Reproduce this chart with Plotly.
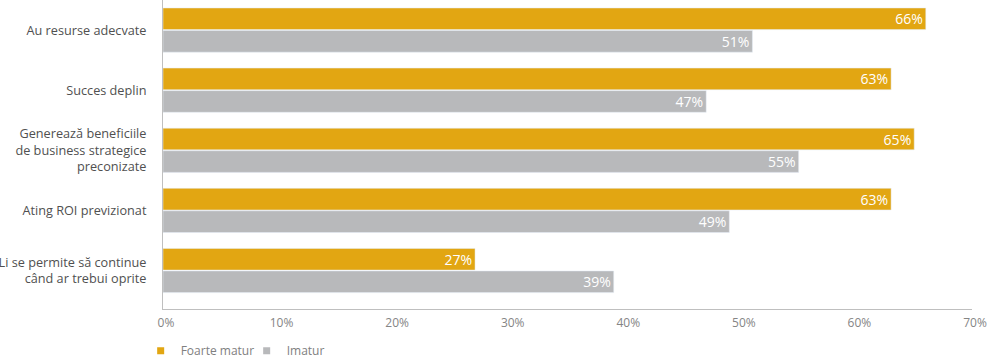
import plotly.graph_objects as go

categories = [
    "Au resurse adecvate",
    "Succes deplin",
    "Generează beneficiile<br>de business strategice<br>preconizate",
    "Ating ROI previzionat",
    "Li se permite să continue<br>când ar trebui oprite",
]
foarte_matur = [66, 63, 65, 63, 27]
imatur = [51, 47, 55, 49, 39]
tick_vals = [0, 10, 20, 30, 40, 50, 60, 70]
tick_text = ["0%", "10%", "20%", "30%", "40%", "50%", "60%", "70%"]

ORANGE = "#E2A612"
GRAY = "#B8B9BB"
FONT = "Open Sans"

fig = go.Figure()
fig.add_trace(go.Bar(
    y=categories, x=foarte_matur, orientation="h", name="Foarte matur",
    marker=dict(color=ORANGE), text=[f"{v}%" for v in foarte_matur],
    textposition="inside", insidetextanchor="end", constraintext="none",
    textfont=dict(color="white", size=14, family=FONT, weight=500), showlegend=False,
))
fig.add_trace(go.Bar(
    y=categories, x=imatur, orientation="h", name="Imatur",
    marker=dict(color=GRAY), text=[f"{v}%" for v in imatur],
    textposition="inside", insidetextanchor="end", constraintext="none",
    textfont=dict(color="white", size=14, family=FONT, weight=500), showlegend=False,
))
# legend entries with small square symbols
fig.add_trace(go.Scatter(x=[None], y=[None], mode="markers", name="Foarte matur",
                         marker=dict(symbol="square", size=7, color=ORANGE)))
fig.add_trace(go.Scatter(x=[None], y=[None], mode="markers", name="Imatur",
                         marker=dict(symbol="square", size=7, color=GRAY)))

fig.update_layout(
    width=987, height=360,
    margin=dict(l=163, r=15, t=0, b=51, autoexpand=False),
    paper_bgcolor="white", plot_bgcolor="white",
    barmode="group", bargap=0.25, bargroupgap=0.04,
    font=dict(family=FONT, color="#555555"),
    legend=dict(orientation="h", x=-0.0276, xanchor="left", y=-0.135, yanchor="middle",
                font=dict(size=12, color="#808080", family=FONT),
                entrywidth=61, entrywidthmode="pixels", tracegroupgap=0),
)
fig.update_xaxes(
    range=[0, 70], tickvals=tick_vals, ticktext=tick_text, automargin=False,
    showgrid=False, zeroline=False, showline=True, linecolor="#BFBFBF", linewidth=1,
    tickfont=dict(size=12, color="#858585"), ticks="", ticklabelstandoff=3,
    ticklabelshift=3,
)
fig.update_yaxes(
    type="category", range=[4.64, -0.5], showgrid=False, zeroline=False, automargin=False,
    showline=True, linecolor="#BFBFBF", linewidth=1, ticks="",
    tickfont=dict(size=12.7, color="#505050"), ticklabelstandoff=13,
)
fig.write_html("out.html", config={"displayModeBar": False},
               post_script="document.body.style.margin='0';document.body.style.overflow='hidden';")
